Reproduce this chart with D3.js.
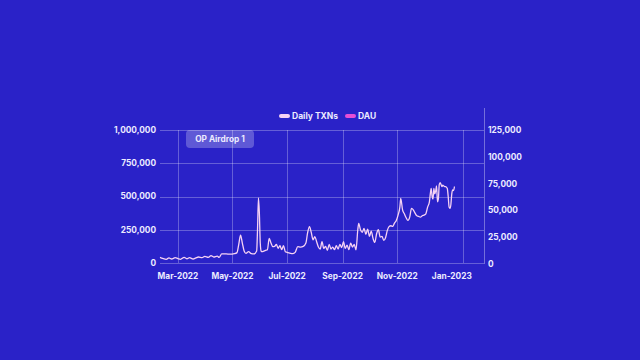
<!DOCTYPE html>
<html>
<head>
<meta charset="utf-8">
<script src="https://cdn.jsdelivr.net/npm/d3@7"></script>
<style>
html,body{margin:0;padding:0;background:#2a22c8;}
svg{display:block;}
text{font-family:Inter,"Noto Sans",sans-serif;font-weight:700;fill:#ecebff;}
</style>
</head>
<body>
<svg id="c" width="640" height="360"></svg>
<script>
const dates = ["2022-02-09","2022-02-12","2022-02-16","2022-02-19","2022-02-22","2022-02-26","2022-03-01","2022-03-04","2022-03-08","2022-03-11","2022-03-14","2022-03-18","2022-03-21","2022-03-24","2022-03-28","2022-03-31","2022-04-04","2022-04-07","2022-04-10","2022-04-14","2022-04-16","2022-04-19","2022-04-24","2022-04-28","2022-05-03","2022-05-06","2022-05-08","2022-05-10","2022-05-12","2022-05-14","2022-05-16","2022-05-19","2022-05-22","2022-05-25","2022-05-28","2022-05-29","2022-05-30","2022-05-31","2022-06-01","2022-06-02","2022-06-03","2022-06-05","2022-06-07","2022-06-09","2022-06-11","2022-06-13","2022-06-15","2022-06-17","2022-06-19","2022-06-21","2022-06-23","2022-06-25","2022-06-27","2022-06-29","2022-07-01","2022-07-04","2022-07-07","2022-07-10","2022-07-13","2022-07-16","2022-07-19","2022-07-22","2022-07-24","2022-07-26","2022-07-28","2022-07-30","2022-08-01","2022-08-03","2022-08-05","2022-08-07","2022-08-09","2022-08-11","2022-08-13","2022-08-15","2022-08-17","2022-08-19","2022-08-21","2022-08-23","2022-08-25","2022-08-27","2022-08-29","2022-08-31","2022-09-02","2022-09-04","2022-09-06","2022-09-08","2022-09-10","2022-09-12","2022-09-14","2022-09-16","2022-09-18","2022-09-19","2022-09-21","2022-09-23","2022-09-25","2022-09-27","2022-09-29","2022-10-01","2022-10-03","2022-10-05","2022-10-07","2022-10-09","2022-10-11","2022-10-13","2022-10-15","2022-10-17","2022-10-19","2022-10-21","2022-10-23","2022-10-25","2022-10-27","2022-10-29","2022-10-31","2022-11-02","2022-11-04","2022-11-05","2022-11-07","2022-11-09","2022-11-11","2022-11-13","2022-11-15","2022-11-17","2022-11-19","2022-11-21","2022-11-23","2022-11-25","2022-11-27","2022-11-29","2022-12-01","2022-12-03","2022-12-05","2022-12-07","2022-12-08","2022-12-09","2022-12-10","2022-12-11","2022-12-12","2022-12-13","2022-12-14","2022-12-15","2022-12-16","2022-12-17","2022-12-18","2022-12-19","2022-12-20","2022-12-21","2022-12-22","2022-12-23","2022-12-24","2022-12-25","2022-12-26","2022-12-27","2022-12-28","2022-12-29","2022-12-30","2022-12-31","2023-01-01","2023-01-02","2023-01-03","2023-01-04"];
const dailyTxns = [43000,35000,28000,38000,30000,40000,33000,28000,42000,32000,40000,30000,38000,45000,40000,50000,42000,55000,45000,52000,42000,68000,68000,66000,70000,78000,140000,210000,150000,90000,73000,85000,70000,68000,90000,260000,490000,380000,150000,90000,85000,90000,95000,100000,185000,150000,123000,125000,140000,110000,130000,100000,130000,85000,80000,75000,70000,80000,123000,120000,125000,150000,230000,273000,230000,175000,198000,160000,120000,105000,160000,110000,125000,95000,140000,105000,120000,100000,130000,105000,140000,115000,160000,110000,135000,100000,150000,120000,140000,98000,250000,298000,250000,230000,260000,215000,255000,200000,240000,185000,155000,220000,250000,195000,200000,170000,190000,245000,275000,280000,275000,300000,320000,360000,420000,485000,400000,370000,340000,320000,345000,410000,400000,375000,355000,350000,345000,355000,360000,370000,420000,460000,520000,560000,500000,480000,560000,520000,540000,580000,460000,480000,590000,605000,590000,575000,585000,580000,575000,575000,570000,560000,500000,420000,410000,440000,520000,550000,545000,575000];
const leftTicks = [0,250000,500000,750000,1000000];
const rightTicks = [0,25000,50000,75000,100000,125000];
const xLabelDates = ["2022-03-01","2022-05-01","2022-07-01","2022-09-01","2022-11-01","2023-01-01"];
const xGridDates = ["2022-03-01","2022-05-01","2022-07-01","2022-09-01","2022-11-01","2023-01-13"];
const seriesNames = ["Daily TXNs","DAU"];
const seriesColors = ["#f6d2f4","#e64fd6"];
const annotationText = "OP Airdrop 1";

(function () {
const parse = d3.timeParse("%Y-%m-%d");
const fmtX = d3.timeFormat("%b-%Y");
const fmtY = d3.format(",");
const svg = d3.select("#c");

const pL = 160, pR = 484, pT = 130, pB = 263;
const x = d3.scaleTime().domain([parse("2022-02-09"), parse("2023-02-06")]).range([pL, pR]);
const yL = d3.scaleLinear().domain([0, 1000000]).range([pB, pT]);
const yR = d3.scaleLinear().domain([0, 125000]).range([pB + 1, pT]);

const grid = svg.append("g").attr("stroke", "rgba(255,255,255,0.28)").attr("stroke-width", 1);
grid.selectAll("line.h").data(leftTicks).join("line")
  .attr("x1", pL).attr("x2", pR)
  .attr("y1", d => Math.round(yL(d)) + 0.5).attr("y2", d => Math.round(yL(d)) + 0.5);
grid.selectAll("line.v").data(xGridDates).join("line")
  .attr("x1", d => Math.round(x(parse(d))) + 0.5).attr("x2", d => Math.round(x(parse(d))) + 0.5)
  .attr("y1", pT).attr("y2", pB);
svg.append("line").attr("x1", pR + 0.5).attr("x2", pR + 0.5).attr("y1", 108).attr("y2", pB + 1)
  .attr("stroke", "rgba(255,255,255,0.35)");

const fs = 8.3;
svg.append("g").selectAll("text").data(leftTicks).join("text")
  .attr("x", 156).attr("y", d => yL(d)).attr("dy", "0.35em")
  .attr("text-anchor", "end").attr("font-size", fs).text(d => fmtY(d));
svg.append("g").selectAll("text").data(rightTicks).join("text")
  .attr("x", 488).attr("y", d => yR(d)).attr("dy", "0.35em")
  .attr("text-anchor", "start").attr("font-size", fs).text(d => fmtY(d));
svg.append("g").selectAll("text").data(xLabelDates).join("text")
  .attr("x", d => x(parse(d))).attr("y", 276.5).attr("dy", "0.35em")
  .attr("text-anchor", "middle").attr("font-size", fs).text(d => fmtX(parse(d)));

const ann = svg.append("g");
ann.append("rect").attr("x", 186).attr("y", 130).attr("width", 68).attr("height", 18).attr("rx", 4)
  .attr("fill", "rgba(255,255,255,0.25)");
ann.append("text").attr("x", 220).attr("y", 139).attr("dy", "0.35em").attr("text-anchor", "middle")
  .attr("font-size", fs).text(annotationText);

const pts = dates.map((d, i) => ({ d: parse(d), v: dailyTxns[i] }));
const line = d3.line().x(p => x(p.d)).y(p => yL(p.v)).curve(d3.curveMonotoneX);
svg.append("path").datum(pts).attr("d", line).attr("fill", "none")
  .attr("stroke", seriesColors[0]).attr("stroke-width", 1.3).attr("stroke-linejoin", "round");

const lg = svg.append("g");
const legendX = [279, 345];
seriesNames.forEach((n, i) => {
  lg.append("rect").attr("x", legendX[i]).attr("y", 114).attr("width", 11).attr("height", 4).attr("rx", 2)
    .attr("fill", seriesColors[i]);
  lg.append("text").attr("x", legendX[i] + 13).attr("y", 116).attr("dy", "0.35em")
    .attr("font-size", 8.5).text(n);
});
})();
</script>
</body>
</html>
